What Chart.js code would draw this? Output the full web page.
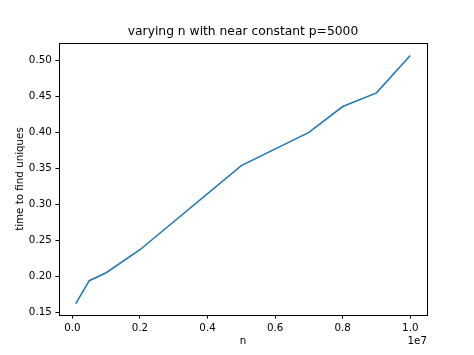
<!DOCTYPE html>
<html>
<head>
<meta charset="utf-8">
<script src="https://cdn.jsdelivr.net/npm/chart.js@4/dist/chart.umd.min.js"></script>
<style>
  html, body { margin: 0; padding: 0; background: #fff; }
  canvas { display: block; }
</style>
</head>
<body>
<canvas id="c" width="474" height="355"></canvas>
<script>
const nValues = [100000, 500000, 1000000, 2000000, 5000000, 7000000, 8000000, 9000000, 10000000];
const timeValues = [0.162, 0.194, 0.205, 0.237, 0.354, 0.400, 0.436, 0.455, 0.507];
const xTicks = [0, 2000000, 4000000, 6000000, 8000000, 10000000];
const yTicks = [0.15, 0.20, 0.25, 0.30, 0.35, 0.40, 0.45, 0.50];
const titleText = 'varying n with near constant p=5000';
const xLabel = 'n';
const yLabel = 'time to find uniques';
const offsetText = '1e7';

const FONT = 'DejaVu Sans';

const framePlugin = {
  id: 'frame',
  afterDraw(chart) {
    const { ctx, chartArea: a } = chart;
    ctx.save();
    ctx.strokeStyle = '#000';
    ctx.lineWidth = 1;
    ctx.strokeRect(Math.round(a.left) + 0.5, Math.round(a.top) + 0.5,
                   Math.round(a.right - a.left), Math.round(a.bottom - a.top));
    ctx.fillStyle = '#000';
    ctx.font = '10.3px "' + FONT + '"';
    ctx.textAlign = 'right';
    ctx.textBaseline = 'middle';
    ctx.fillText(offsetText, a.right, 341);
    ctx.font = '12.3px "' + FONT + '"';
    ctx.textAlign = 'center';
    ctx.fillText(titleText, (a.left + a.right) / 2, 32);
    ctx.restore();
  }
};

new Chart(document.getElementById('c'), {
  type: 'line',
  data: {
    datasets: [{
      data: nValues.map((n, i) => ({ x: n, y: timeValues[i] })),
      borderColor: '#1f77b4',
      borderWidth: 1.55,
      pointRadius: 0,
      fill: false,
      tension: 0
    }]
  },
  options: {
    responsive: false,
    animation: false,
    layout: { padding: { left: 0, right: 47, top: 43, bottom: 0 } },
    plugins: {
      legend: { display: false },
      tooltip: { enabled: false },
      title: { display: false }
    },
    scales: {
      x: {
        type: 'linear',
        min: -395000,
        max: 10495000,
        afterBuildTicks: s => { s.ticks = xTicks.map(v => ({ value: v })); },
        afterFit: s => { s.height = 40; },
        ticks: {
          color: '#000',
          font: { family: FONT, size: 10.3 },
          padding: 3.6,
          maxRotation: 0,
          callback: v => (v / 1e7).toFixed(1)
        },
        grid: { drawOnChartArea: false, drawTicks: true, tickLength: 3.6, color: '#000', lineWidth: 1 },
        border: { display: true, color: '#000', width: 1 },
        title: {
          display: true,
          text: xLabel,
          color: '#000',
          font: { family: FONT, size: 10.3 },
          padding: { top: 0, bottom: 7.1 }
        }
      },
      y: {
        type: 'linear',
        min: 0.1463,
        max: 0.5243,
        afterBuildTicks: s => { s.ticks = yTicks.map(v => ({ value: v })); },
        afterFit: s => { s.width = 59; },
        ticks: {
          color: '#000',
          font: { family: FONT, size: 10.3 },
          padding: 3.6,
          callback: v => Number(v).toFixed(2)
        },
        grid: { drawOnChartArea: false, drawTicks: true, tickLength: 3.6, color: '#000', lineWidth: 1 },
        border: { display: true, color: '#000', width: 1 },
        title: {
          display: true,
          text: yLabel,
          color: '#000',
          font: { family: FONT, size: 10.3 },
          padding: { top: 13.8, bottom: 0 }
        }
      }
    }
  },
  plugins: [framePlugin]
});
</script>
</body>
</html>
